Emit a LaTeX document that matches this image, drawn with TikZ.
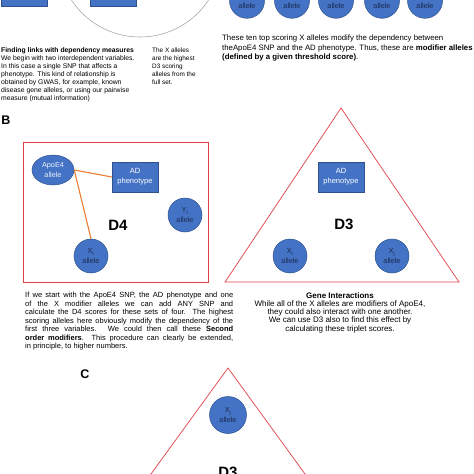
\documentclass[tikz,border=0pt]{standalone}
\usepackage{fontspec}
\setmainfont{Liberation Sans}
\usetikzlibrary{positioning,shapes.geometric}
\definecolor{offblue}{HTML}{4472C4}
\definecolor{offedge}{HTML}{2F528F}
\definecolor{offorange}{HTML}{ED7D31}
\definecolor{boxred}{HTML}{E0404A}
\definecolor{arcgray}{HTML}{A8A8A8}
\definecolor{alleletext}{HTML}{1B2A4E}
\tikzset{
  allele/.style={circle, fill=offblue, draw=offedge, line width=0.5pt, minimum size=34pt,
    inner sep=0pt, align=center, text=alleletext, font=\fontsize{7.3}{9.5}\selectfont},
  pheno/.style={rectangle, fill=offblue, draw=offedge, line width=0.5pt, minimum width=46pt,
    minimum height=30pt, inner sep=0pt, align=center, text=white, font=\fontsize{7.5}{9.7}\selectfont},
  frame/.style={draw=boxred, line width=0.7pt},
  link/.style={draw=offorange, line width=1.1pt},
  note/.style={inner sep=0pt, anchor=north west, align=left},
  dname/.style={inner sep=0pt, font=\fontsize{15}{15}\selectfont\bfseries},
  panel/.style={inner sep=0pt, font=\fontsize{12.5}{12.5}\selectfont\bfseries}
}

\begin{document}
\begin{tikzpicture}[x=1pt, y=-1pt]
  \useasboundingbox (0,0) rectangle (474,474);
  \clip (0,0) rectangle (474,474);

  %% panel A (cut off at the top)
  \node[pheno] (topbox1) at (24,-9) {};
  \node[pheno] (topbox2) at (113,-9) {};
  \draw[arcgray, line width=0.6pt] (140,-45) circle[radius=82pt];
  \foreach \cx [count=\i] in {247,292,336,382,425}
    \node[allele, minimum size=35pt] (top\i) at (\cx,0.8) {\vphantom{X}\\allele};

  \node[note, font=\fontsize{6.8}{8}\selectfont] (findtxt) at (1,47.5)
    {\textbf{Finding links with dependency measures}\\
     We begin with two interdependent variables.\\
     In this case a single SNP that affects a\\
     phenotype. This kind of relationship is\\
     obtained by GWAS, for example, known\\
     disease gene alleles, or using our pairwise\\
     measure (mutual information)};
  \node[note, font=\fontsize{6.4}{8}\selectfont] (xtxt) at (152,47.5)
    {The X alleles\\ are the highest\\ D3 scoring\\ alleles from the\\ full set.};
  \node[note, font=\fontsize{7.8}{9.5}\selectfont] (modtxt) at (222,35)
    {These ten top scoring X alleles modify the dependency between\\
     theApoE4 SNP and the AD phenotype. Thus, these are \textbf{modifier alleles}\\
     \textbf{(defined by a given threshold score)}.};

  %% panel B
  \node[panel] (labB) at (6,120) {B};
  \draw[frame] (23,142) rectangle (208,282);
  \node[allele, ellipse, minimum width=42pt, minimum height=30pt, text=white!90!offblue] (apoe) at (53,170) {ApoE4\\allele};
  \node[pheno] (adB) at (135,177) {AD\\phenotype};
  \node[allele] (yi) at (185,215) {Y\textsubscript{i}\\allele};
  \node[allele] (xiB) at (91,256) {X\textsubscript{i}\\allele};
  \node[dname] (d4) at (118,225) {D4};
  \draw[link] (apoe.east) -- (adB.west);
  \draw[link] (apoe.east) -- (xiB.north);

  \draw[frame] (225,282) -- (459,282) -- (341,108) -- cycle;
  \node[pheno] (adT) at (341,177) {AD\\phenotype};
  \node[dname] (d3B) at (344,224) {D3};
  \node[allele] (xiT) at (290,256) {X\textsubscript{i}\\allele};
  \node[allele] (xjT) at (392,256) {X\textsubscript{j}\\allele};

  \node[note, text width=208pt, align=justify, font=\fontsize{7.5}{8.5}\selectfont] (d4txt) at (25,292)
    {If we start with the ApoE4 SNP, the AD phenotype and one\linebreak
     of the X modifier alleles we can add ANY SNP and\linebreak
     calculate the D4 scores for these sets of four. The highest\linebreak
     scoring alleles here obviously modify the dependency of the\linebreak
     first three variables. We could then call these \textbf{Second}\linebreak
     \textbf{order modifiers}. This procedure can clearly be extended,\linebreak
     in principle, to higher numbers.};
  \node[inner sep=0pt, anchor=north, align=center, font=\fontsize{8}{8.3}\selectfont] (genetxt) at (340,292)
    {\textbf{Gene Interactions}\\
     While all of the X alleles are modifiers of ApoE4,\\
     they could also interact with one another.\\
     We can use D3 also to find this effect by\\
     calculating these triplet scores.};

  %% panel C
  \node[panel] (labC) at (85,374) {C};
  \draw[frame] (228,368) -- (313,485) -- (143,485) -- cycle;
  \node[allele, minimum size=37pt] (xjC) at (228,415) {X\textsubscript{j}\\allele};
  \node[dname] (d3C) at (228,472.5) {D3};
\end{tikzpicture}
\end{document}
